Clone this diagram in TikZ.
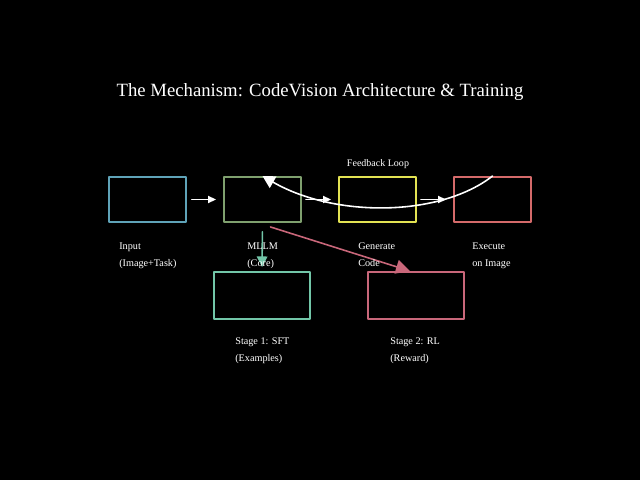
\documentclass[tikz,border=0pt]{standalone}
\usepackage{fontspec}
\setmainfont{Liberation Serif}
\usetikzlibrary{arrows.meta}
\definecolor{inpcol}{HTML}{5FA3B8}
\definecolor{mllmcol}{HTML}{7FA06E}
\definecolor{gencol}{HTML}{E2E252}
\definecolor{execol}{HTML}{D46A6A}
\definecolor{sftcol}{HTML}{72C6A8}
\definecolor{rlcol}{HTML}{C9677A}
\begin{document}
\begin{tikzpicture}[x=0.02cm, y=-0.02cm, line cap=round, line join=round,
  box/.style={draw, line width=1.1pt, minimum width=1.54cm, minimum height=0.9cm, inner sep=0pt},
  stagebox/.style={draw, line width=1.1pt, minimum width=1.92cm, minimum height=0.94cm, inner sep=0pt},
  lbl/.style={anchor=base west, inner sep=0pt, text=white, font=\fontsize{5.8}{7}\selectfont},
  flow/.style={-{Triangle[length=4.5pt,width=4pt]}, white, line width=0.9pt}]
  \path[fill=black] (0,0) rectangle (640,480);

  \node[anchor=base, text=white, font=\fontsize{10.65}{12}\selectfont] (title) at (320,96)
    {The Mechanism: CodeVision Architecture \& Training};

  % pipeline
  \node[box, draw=inpcol] (inp) at (147.5,199.5) {};
  \node[box, draw=mllmcol] (mllm) at (262.5,199.5) {};
  \node[box, draw=gencol] (gen) at (377.5,199.5) {};
  \node[box, draw=execol] (exe) at (492.5,199.5) {};

  % training stages
  \node[stagebox, draw=sftcol] (sft) at (262,295.5) {};
  \node[stagebox, draw=rlcol] (rl) at (416,295.5) {};

  \draw[flow, shorten <=2.8pt, shorten >=4pt] (inp.east) -- (mllm.west);
  \draw[flow, shorten <=2.3pt, shorten >=4pt] (mllm.east) -- (gen.west);
  \draw[flow, shorten <=2.3pt, shorten >=4pt] (gen.east) -- (exe.west);

  \draw[white, line width=0.9pt, -{Triangle[length=7pt,width=7.5pt]}]
    (exe.north) .. controls (440,217) and (335,218) .. (mllm.north);
  \node[anchor=base, text=white, font=\fontsize{5.7}{7}\selectfont] (fb) at (378,166.5) {Feedback Loop};

  \draw[sftcol, line width=0.9pt, shorten <=5pt, shorten >=2.3pt, -{Triangle[length=6pt,width=6pt]}]
    (mllm.south) -- (sft.north);
  \draw[rlcol, line width=0.9pt, -{Triangle[length=8pt,width=8pt]}]
    ([xshift=0.16cm,yshift=-0.08cm]mllm.south) -- ([xshift=-0.12cm]rl.north);

  \node[lbl] (inpa) at (119,249.5) {Input};
  \node[lbl] (inpb) at (119,266.5) {(Image+Task)};
  \node[lbl] (mllma) at (247,249.5) {MLLM};
  \node[lbl] (mllmb) at (247,266.5) {(Core)};
  \node[lbl] (gena) at (358,249.5) {Generate};
  \node[lbl] (genb) at (358,266.5) {Code};
  \node[lbl] (exea) at (472,249.5) {Execute};
  \node[lbl] (exeb) at (472,266.5) {on Image};

  \node[lbl] (sfta) at (235,344.5) {Stage 1: SFT};
  \node[lbl] (sftb) at (235,361.5) {(Examples)};
  \node[lbl] (rla) at (390,344.5) {Stage 2: RL};
  \node[lbl] (rlb) at (390,361.5) {(Reward)};
\end{tikzpicture}
\end{document}
